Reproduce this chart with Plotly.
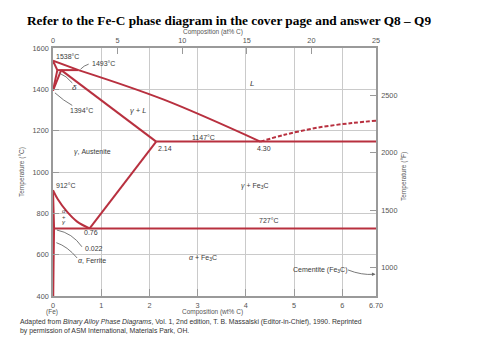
import plotly.graph_objects as go

# ---------------- data (wt% C, °C) ----------------
liquidus_wt = [0, 0.53]
liquidus_T = [1538, 1493]
liquidus2_wt = [0.53, 2.30, 4.30]
liquidus2_T = [1493, 1350, 1147]
delta_solidus_wt = [0, 0.09]
delta_solidus_T = [1538, 1493]
peritectic_wt = [0.09, 0.53]
peritectic_T = [1493, 1493]
delta_bound_wt = [0.09, 0]
delta_bound_T = [1493, 1394]
gamma_delta_wt = [0.17, 0]
gamma_delta_T = [1493, 1394]
gamma_solidus_wt = [0.17, 2.14]
gamma_solidus_T = [1493, 1147]
eutectic_wt = [2.14, 6.70]
eutectic_T = [1147, 1147]
acm_wt = [2.14, 0.76]
acm_T = [1147, 727]
a3_wt = [0, 0.10, 0.29, 0.50, 0.76]
a3_T = [912, 868, 808, 760, 727]
eutectoid_wt = [0.022, 6.70]
eutectoid_T = [727, 727]
alpha_solvus_wt = [0, 0.022, 0.012, 0.005]
alpha_solvus_T = [912, 727, 560, 400]
fe3c_liq_wt = [4.30, 4.8, 5.5, 6.2, 6.70]
fe3c_liq_T = [1147, 1180, 1215, 1237, 1248]

wt_ticks = [0, 1, 2, 3, 4, 5, 6, 6.70]
wt_ticktext = ["0", "1", "2", "3", "4", "5", "6", "6.70"]
at_ticks = [0, 5, 10, 15, 20, 25]
degC_ticks = [400, 600, 800, 1000, 1200, 1400, 1600]
degF_ticks = [1000, 1500, 2000, 2500]
T_range_C = [400, 1600]

RED = "#b8303f"
GRAY = "#9a9a9a"
TXT = "#3a3a3a"
FONT = "Liberation Sans, Arial, sans-serif"

OFF = 8  # page body margin offset (px)


def c_to_f(c):
    return c * 9 / 5 + 32


fig = go.Figure()
solid = [
    (liquidus_wt, liquidus_T), (delta_solidus_wt, delta_solidus_T),
    (peritectic_wt, peritectic_T), (delta_bound_wt, delta_bound_T),
    (gamma_delta_wt, gamma_delta_T), (gamma_solidus_wt, gamma_solidus_T),
    (eutectic_wt, eutectic_T), (acm_wt, acm_T), (eutectoid_wt, eutectoid_T),
    (alpha_solvus_wt, alpha_solvus_T),
]
for xs, ys in solid:
    fig.add_trace(go.Scatter(x=xs, y=ys, mode="lines", line=dict(color=RED, width=2),
                             hoverinfo="skip", showlegend=False))
for xs, ys in [(liquidus2_wt, liquidus2_T), (a3_wt, a3_T)]:
    fig.add_trace(go.Scatter(x=xs, y=ys, mode="lines",
                             line=dict(color=RED, width=2, shape="spline"),
                             hoverinfo="skip", showlegend=False))
fig.add_trace(go.Scatter(x=fe3c_liq_wt, y=fe3c_liq_T, mode="lines",
                         line=dict(color=RED, width=2, shape="spline", dash="4px,2px"),
                         hoverinfo="skip", showlegend=False))
# dummy trace to activate secondary axes
fig.add_trace(go.Scatter(x=[None], y=[None], xaxis="x2", yaxis="y2",
                         hoverinfo="skip", showlegend=False))

W, H = 503 - OFF, 358 - OFF
L, R, T, B = 53 - OFF, 376 - OFF, 48 - OFF, 296 - OFF

tickfont = dict(family=FONT, size=7.3, color="#555")
fig.update_layout(
    width=W, height=H,
    margin=dict(l=L, r=W - R, t=T, b=H - B, pad=0),
    paper_bgcolor="white", plot_bgcolor="white",
    showlegend=False,
    xaxis=dict(range=[0, 6.70], tickvals=wt_ticks, ticktext=wt_ticktext,
               ticks="inside", ticklen=7, tickcolor=GRAY, tickfont=tickfont,
               showgrid=True, gridcolor="#cacaca", gridwidth=1,
               showline=True, linecolor=GRAY, linewidth=1.5, zeroline=False,
               ticklabelstandoff=1),
    yaxis=dict(range=T_range_C, tickvals=degC_ticks,
               ticks="inside", ticklen=6, tickcolor=GRAY, tickfont=tickfont,
               showgrid=True, gridcolor="#cacaca", gridwidth=1,
               showline=True, linecolor=GRAY, linewidth=1.5, zeroline=False,
               ticklabelstandoff=1),
    xaxis2=dict(range=[0, 25], tickvals=at_ticks, overlaying="x", side="top",
                ticks="inside", ticklen=6, tickcolor=GRAY, tickfont=tickfont,
                showgrid=False, showline=True, linecolor=GRAY, linewidth=1.5,
                zeroline=False, ticklabelstandoff=0),
    yaxis2=dict(range=[c_to_f(T_range_C[0]), c_to_f(T_range_C[1])], tickvals=degF_ticks,
                overlaying="y", side="right", anchor="x2",
                ticks="inside", ticklen=6, tickcolor=GRAY, tickfont=tickfont,
                showgrid=False, showline=True, linecolor=GRAY, linewidth=1.5,
                zeroline=False, ticklabelstandoff=2),
)

# ---------- in-plot labels ----------
def lab(text, x, y, size=7, italic=False, xanchor="center"):
    if italic:
        text = "<i>" + text + "</i>"
    fig.add_annotation(text=text, x=x, y=y, xref="x", yref="y", showarrow=False,
                       xanchor=xanchor, yanchor="middle",
                       font=dict(family=FONT, size=size, color=TXT))

lab("1538°C", 0.02, 1561, xanchor="left")
lab("1493°C", 0.76, 1523, xanchor="left")
lab("δ", 0.45, 1411, size=8, italic=True)
lab("1394°C", 0.59, 1300)
lab("γ + L", 1.77, 1300, size=7.5, italic=True)
lab("L", 4.13, 1426, size=8, italic=True)
lab("1147°C", 3.12, 1169)
lab("2.14", 2.33, 1116)
lab("4.30", 4.38, 1116)
lab("<i>γ</i>, Austenite", 0.82, 1097)
lab("912°C", 0.03, 937, xanchor="left")
lab("α", 0.22, 810, size=6, italic=True)
lab("+", 0.22, 783, size=6)
lab("γ", 0.22, 756, size=6, italic=True)
lab("0.76", 0.78, 705)
lab("0.022", 0.85, 631)
lab("<i>α</i>, Ferrite", 0.81, 574)
lab("<i>γ</i> + Fe<sub>3</sub>C", 4.17, 932)
lab("727°C", 4.48, 763)
lab("<i>α</i> + Fe<sub>3</sub>C", 3.12, 584)
lab("Cementite (Fe<sub>3</sub>C)", 5.54, 526)

# pointer lines
pointers = [
    "M 0.57,1497 Q 0.64,1515 0.74,1522",
    "M 0.12,1480 Q 0.28,1465 0.40,1431",
    "M 0.04,1383 Q 0.22,1345 0.40,1322",
    "M 0.08,719 Q 0.40,705 0.60,638",
    "M 0.07,658 Q 0.30,640 0.50,584",
    "M 6.12,526 Q 6.40,500 6.66,505",
]
for p in pointers:
    fig.add_shape(type="path", path=p, xref="x", yref="y",
                  line=dict(color="#6a6a6a", width=0.9))
fig.add_annotation(x=6.69, y=505, ax=6.60, ay=505, xref="x", yref="y", axref="x", ayref="y",
                   text="", showarrow=True, arrowhead=2, arrowsize=0.8, arrowwidth=0.9,
                   arrowcolor="#6a6a6a")


# ---------- outside text (paper coords from reference pixel positions) ----------
def paper(px, py):
    return (px - OFF - L) / (R - L), (B - (py - OFF)) / (B - T)


def ptext(text, px, py, size=7, xanchor="center", color="#555", family=FONT, angle=0):
    x, y = paper(px, py)
    fig.add_annotation(text=text, x=x, y=y, xref="paper", yref="paper", showarrow=False,
                       xanchor=xanchor, yanchor="middle", textangle=angle,
                       font=dict(family=family, size=size, color=color))

ptext("<b>Refer to the Fe-C phase diagram in the cover page and answer Q8 – Q9</b>",
      25, 21, size=13.3, xanchor="left", color="black",
      family="Liberation Serif, Times New Roman, serif")
ptext("Composition (at% C)", 213, 32, size=6.5)
ptext("(Fe)", 52, 312, size=6.5)
ptext("Composition (wt% C)", 212, 312, size=6.5)
ptext("Temperature (°C)", 22, 172, size=6.5, angle=-90)
ptext("Temperature (°F)", 404, 176, size=6.5, angle=-90)
ptext("Adapted from <i>Binary Alloy Phase Diagrams</i>, Vol. 1, 2nd edition, T. B. Massalski "
      "(Editor-in-Chief), 1990. Reprinted", 18, 322, size=6.85, xanchor="left", color="#333")
ptext("by permission of ASM International, Materials Park, OH.", 18, 331, size=6.85,
      xanchor="left", color="#333")

fig.write_html("out.html")
